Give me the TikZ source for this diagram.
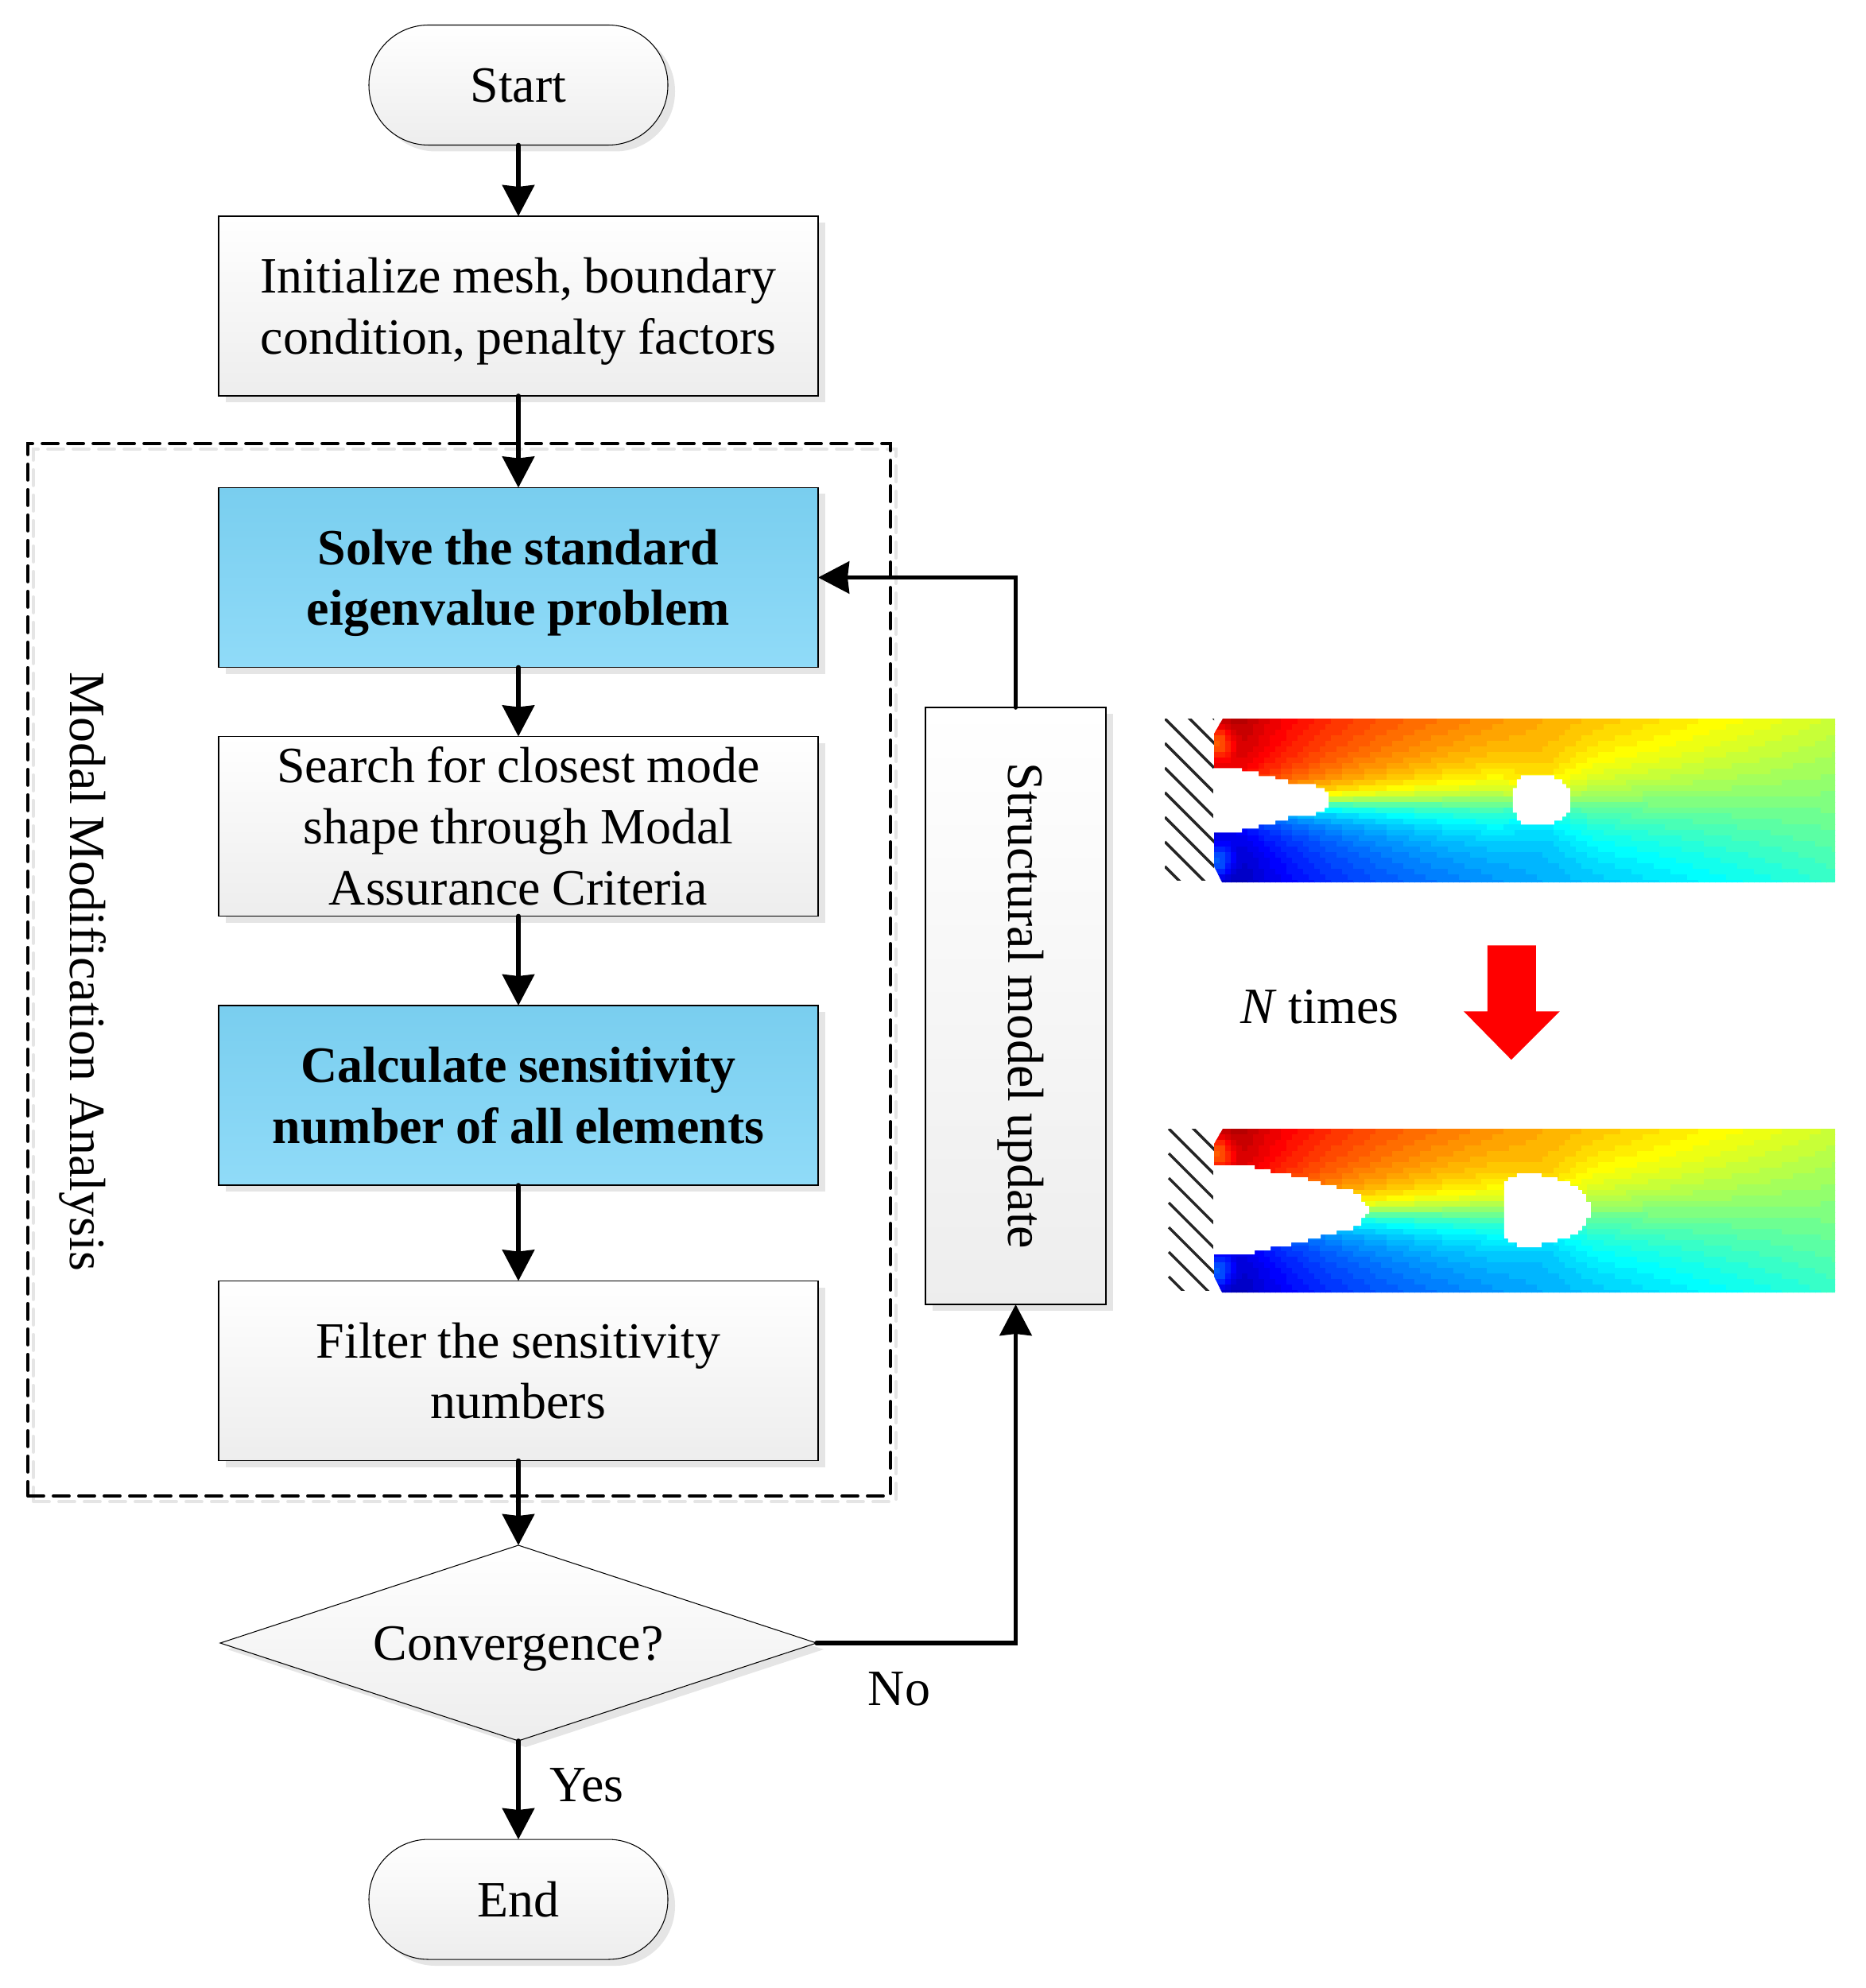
\documentclass[tikz,border=0pt]{standalone}
\usepackage{fontspec}
\setmainfont[WordSpace=0.9]{Liberation Serif}
\usetikzlibrary{shapes,arrows.meta,shadows}

\newcommand{\linetop}{\rule{0pt}{16.5pt}}
\newcommand{\linebot}{\rule[-4pt]{0pt}{4pt}}

% jet colours from a value between 0 and 1
\newcommand{\jetcolor}[1]{%
  \pgfmathsetmacro{\jetr}{max(0,min(1,1.5-abs(4*#1-3)))}%
  \pgfmathsetmacro{\jetg}{max(0,min(1,1.5-abs(4*#1-2)))}%
  \pgfmathsetmacro{\jetb}{max(0,min(1,1.5-abs(4*#1-1)))}%
  \definecolor{jetcell}{rgb}{\jetr,\jetg,\jetb}}

% field of one beam: #1 = top edge y
\newcommand{\beamfield}[1]{%
  \begin{scope}[shift={(15.27,-#1)}]
    \clip (0.11,0) -- (0,-0.19) -- (0,-1.86) -- (0.1,-2.06) -- (7.81,-2.06) -- (7.81,0) -- cycle;
    \foreach \i in {0,...,111} {
      \foreach \j in {0,...,29} {
        \pgfmathsetmacro{\ww}{1-\j/14.5+0.0001}
        \pgfmathsetmacro{\uu}{\i/111}
        \pgfmathsetmacro{\kk}{(0.1+0.6*\uu/(1.02-\uu))*(1-0.7*exp(-((\uu-0.53)/0.07)^2))}
        \pgfmathsetmacro{\vv}{(0.075+0.27*(1-\uu)+0.155*exp(-8*\uu))*abs(\ww)*(1+\kk)/(abs(\ww)+\kk)-0.2*exp(-(\uu*40)^2-((abs(\ww)-0.74)*4)^2)}
        \pgfmathsetmacro{\vv}{round((0.5+\vv*\ww/abs(\ww))*56)/56}
        \jetcolor{\vv}
        \fill [jetcell] (\i*0.07,-\j*0.07) rectangle ++(0.08,-0.08);
      }
    }
  \end{scope}}

\begin{document}
\begin{tikzpicture}[line width=0.3pt, auto]
        % Styles
        \tikzstyle{shade} = [drop shadow={shadow xshift=0.09cm, shadow yshift=-0.08cm, fill=black!10, opacity=1}]
        \tikzstyle{plate} = [rectangle, draw, shade, top color=white, bottom color=black!7, align=flush center, outer sep=0pt, inner sep=0pt, font=\fontsize{18.2}{21.8}\selectfont]
        \tikzstyle{block} = [plate, text width=7cm, minimum width=7.54cm, minimum height=2.26cm, execute at begin node=\linetop, execute at end node=\linebot]
        \tikzstyle{hot} = [block, top color=blueTop, bottom color=blueBot, font=\fontsize{18.2}{21.8}\selectfont\bfseries]
        \tikzstyle{term} = [block, text width=, rounded corners=0.75cm, minimum width=3.76cm, minimum height=1.51cm]
        \tikzstyle{decide} = [diamond, draw, shade, top color=white, bottom color=black!7, aspect=3.05, minimum width=7.5cm, minimum height=2.46cm, inner sep=0pt, outer sep=0pt, font=\fontsize{18.2}{21.8}\selectfont, execute at begin node=\linetop, execute at end node=\linebot]
        \tikzstyle{line} = [draw, line width=1.6pt, line cap=round, -{Stealth[length=0.39cm, width=0.4cm, inset=0.02cm]}]
        \tikzstyle{tag} = [font=\fontsize{18.2}{21.8}\selectfont, inner sep=0pt]
        \tikzstyle{frame} = [dashed, line width=1.1pt, line cap=round, dash pattern=on 0.2cm off 0.12cm, minimum width=10.85cm, minimum height=13.24cm, outer sep=0pt, inner sep=0pt]
        \definecolor{blueTop}{HTML}{79CEEF}
        \definecolor{blueBot}{HTML}{90DBF8}

        \useasboundingbox (0,0) rectangle (23.46,-25.01);

        % Dashed frame
        \node [frame, draw=black!10] (modal_shadow) at (5.845,-12.27) {};
        \node [frame, draw] (modal) at (5.775,-12.2) {};

        % Nodes
        \node [term] (start) at (6.52,-1.07) {Start};
        \node [block, below of=start, node distance=2.78cm] (init) {Initialize mesh, boundary\\condition, penalty factors};
        \node [hot, below of=init, node distance=3.415cm] (solve) {Solve the standard\\eigenvalue problem};
        \node [block, below of=solve, node distance=3.13cm] (search) {Search for closest mode\\shape through Modal\\Assurance Criteria};
        \node [hot, below of=search, node distance=3.385cm] (calc) {Calculate sensitivity\\number of all elements};
        \node [block, below of=calc, node distance=3.465cm] (filter) {Filter the sensitivity\\numbers};
        \node [decide, below of=filter, node distance=3.425cm] (conv) {Convergence?};
        \node [term, below of=conv, node distance=3.225cm] (stop) {End};
        \node [plate, minimum width=2.27cm, minimum height=7.51cm] (update) at (12.775,-12.655) {\rotatebox{-90}{\rule[-7.6pt]{0pt}{20pt}Structural model update}};

        % Edges
        \path [line] (start) -- (init);
        \path [line] (init) -- (solve);
        \path [line] (solve) -- (search);
        \path [line] (search) -- (calc);
        \path [line] (calc) -- (filter);
        \path [line] (filter) -- (conv);
        \path [line] (conv) -- (stop);
        \path [line] (conv) -| (update);
        \path [line] (update) |- (solve);

        % Labels
        \node [tag, rotate=-90] (modal_label) at (1.04,-12.22) {Modal Modification Analysis};
        \node [tag] (no_label) at (11.31,-21.25) {No};
        \node [tag] (yes_label) at (7.38,-22.46) {Yes};
        \node [tag] (times_label) at (16.6,-12.67) {\textit{N} times};

        % Beams
        \foreach \top/\hx in {9.04/14.65,14.20/14.70} {
          \begin{scope}
            \clip (14.65,-\top) rectangle (15.27,-\top-2.03);
            \foreach \k in {-2,...,7} {
              \draw [line width=1pt, black!85] (\hx,-\top-\k*0.31) -- ++(1.0,-1.0);
            }
          \end{scope}
          \beamfield{\top}
        }

        \begin{scope}[x=0.01cm, y=-0.01cm]
          % Voids, top beam
          \fill [white] (1527,967) -- (1563,967) -- (1563,971) -- (1584,971) -- (1584,977) -- (1605,977) -- (1605,981) -- (1621,981) -- (1621,987) -- (1656,987) -- (1656,992) -- (1667,992) -- (1667,997) -- (1672,997) -- (1672,1017) -- (1667,1017) -- (1667,1022) -- (1656,1022) -- (1656,1027) -- (1621,1027) -- (1621,1033) -- (1605,1033) -- (1605,1038) -- (1584,1038) -- (1584,1043) -- (1563,1043) -- (1563,1048) -- (1527,1048) -- cycle;
          \fill [white] (1914,976) -- (1956,976) -- (1956,981) -- (1966,981) -- (1966,987) -- (1971,987) -- (1971,992) -- (1976,992) -- (1976,1023) -- (1971,1023) -- (1971,1028) -- (1966,1028) -- (1966,1033) -- (1956,1033) -- (1956,1038) -- (1914,1038) -- (1914,1033) -- (1909,1033) -- (1909,1023) -- (1904,1023) -- (1904,992) -- (1909,992) -- (1909,981) -- (1914,981) -- cycle;

          % Voids, bottom beam
          \fill [white] (1527,1467) -- (1579,1467) -- (1579,1472) -- (1599,1472) -- (1599,1477) -- (1625,1477) -- (1625,1482) -- (1646,1482) -- (1646,1487) -- (1662,1487) -- (1662,1492) -- (1682,1492) -- (1682,1497) -- (1703,1497) -- (1703,1503) -- (1713,1503) -- (1713,1513) -- (1718,1513) -- (1718,1518) -- (1723,1518) -- (1723,1528) -- (1718,1528) -- (1718,1533) -- (1713,1533) -- (1713,1543) -- (1703,1543) -- (1703,1549) -- (1682,1549) -- (1682,1554) -- (1662,1554) -- (1662,1559) -- (1646,1559) -- (1646,1564) -- (1625,1564) -- (1625,1569) -- (1599,1569) -- (1599,1574) -- (1579,1574) -- (1579,1579) -- (1527,1579) -- cycle;
          \fill [white] (1893,1487) -- (1898,1487) -- (1898,1482) -- (1909,1482) -- (1909,1477) -- (1940,1477) -- (1940,1482) -- (1960,1482) -- (1960,1487) -- (1976,1487) -- (1976,1493) -- (1986,1493) -- (1986,1498) -- (1991,1498) -- (1991,1503) -- (1996,1503) -- (1996,1513) -- (2002,1513) -- (2002,1533) -- (1996,1533) -- (1996,1543) -- (1991,1543) -- (1991,1549) -- (1986,1549) -- (1986,1554) -- (1976,1554) -- (1976,1559) -- (1960,1559) -- (1960,1564) -- (1940,1564) -- (1940,1570) -- (1909,1570) -- (1909,1564) -- (1898,1564) -- (1898,1559) -- (1893,1559) -- cycle;

          % Red arrow
          \fill [red] (1872,1190) -- (1933,1190) -- (1933,1273) -- (1963,1273) -- (1902,1334) -- (1842,1273) -- (1872,1273) -- cycle;
        \end{scope}
\end{tikzpicture}
\end{document}
